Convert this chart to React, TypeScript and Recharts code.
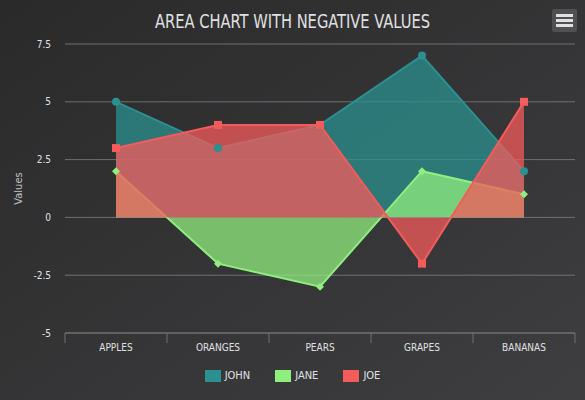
import { Area, AreaChart, CartesianGrid, XAxis, YAxis } from "recharts"

const categories = ["Apples", "Oranges", "Pears", "Grapes", "Bananas"]
const john = [5, 3, 4, 7, 2]
const jane = [2, -2, -3, 2, 1]
const joe = [3, 4, 4, -2, 5]
const yTicks = [-5, -2.5, 0, 2.5, 5, 7.5]

const JOHN = "#2b908f"
const JANE = "#90ee7e"
const JOE = "#f45b5b"
const TEXT = "#E0E0E3"
const GRID = "#707073"
const FONT = "'DejaVu Sans Condensed', 'DejaVu Sans', sans-serif"

const data = categories.map((name, i) => ({
  name,
  John: john[i],
  Jane: jane[i],
  Joe: joe[i],
}))

const series = [
  { key: "John", color: JOHN },
  { key: "Jane", color: JANE },
  { key: "Joe", color: JOE },
]

const HALF_BAND = 51

function XTick(props: any) {
  const { x, y, payload, index } = props
  return (
    <g>
      <line x1={x - HALF_BAND} x2={x - HALF_BAND} y1={y} y2={y + 10} stroke={GRID} />
      {index === categories.length - 1 && (
        <line x1={x + HALF_BAND} x2={x + HALF_BAND} y1={y} y2={y + 10} stroke={GRID} />
      )}
      <text
        x={x}
        y={y + 18}
        textAnchor="middle"
        fill={TEXT}
        fontSize={10}
        fontFamily={FONT}
        style={{ textTransform: "uppercase" }}
      >
        {payload.value}
      </text>
    </g>
  )
}

const circleDot = (p: any) => (
  <circle key={`c${p.index}`} cx={p.cx} cy={p.cy} r={4} fill={JOHN} />
)
const diamondDot = (p: any) => (
  <polygon
    key={`d${p.index}`}
    points={`${p.cx},${p.cy - 4} ${p.cx + 4},${p.cy} ${p.cx},${p.cy + 4} ${p.cx - 4},${p.cy}`}
    fill={JANE}
  />
)
const squareDot = (p: any) => (
  <rect key={`s${p.index}`} x={p.cx - 4} y={p.cy - 4} width={8} height={8} fill={JOE} />
)

export default function App() {
  return (
    <div
      style={{
        position: "absolute",
        left: 0,
        top: 0,
        width: 585,
        height: 400,
        background: "linear-gradient(to bottom right, #2a2a2b, #3e3e40)",
        fontFamily: FONT,
      }}
    >
      <svg width={585} height={400} style={{ position: "absolute", left: 0, top: 0 }}>
        <text
          x={292.5}
          y={28}
          textAnchor="middle"
          fill={TEXT}
          fontSize={20}
          fontFamily={FONT}
          textLength={275}
          lengthAdjust="spacingAndGlyphs"
        >
          AREA CHART WITH NEGATIVE VALUES
        </text>
        <rect x={552} y={9} width={25} height={23} rx={2} fill="#505053" />
        <rect x={556} y={14} width={17} height={3} fill={TEXT} />
        <rect x={556} y={19} width={17} height={3} fill={TEXT} />
        <rect x={556} y={24} width={17} height={3} fill={TEXT} />
        <text
          x={22}
          y={188.5}
          textAnchor="middle"
          fill={TEXT}
          fontSize={11}
          fontFamily={FONT}
          opacity={0.8}
          transform="rotate(-90 22 188.5)"
        >
          Values
        </text>
      </svg>
      <div style={{ position: "absolute", left: 0, top: 0 }}>
        <AreaChart
          width={585}
          height={400}
          data={data}
          margin={{ top: 44, right: 10, bottom: 37, left: 0 }}
        >
          <CartesianGrid vertical={false} stroke={GRID} />
          <XAxis
            dataKey="name"
            height={30}
            padding={{ left: HALF_BAND, right: HALF_BAND }}
            axisLine={{ stroke: GRID }}
            tickLine={false}
            tickSize={0}
            tickMargin={0}
            interval={0}
            tick={<XTick />}
          />
          <YAxis
            width={65}
            domain={[-5, 7.5]}
            ticks={yTicks}
            axisLine={false}
            tickLine={false}
            tickSize={6}
            tickMargin={8}
            tick={{ fill: TEXT, fontSize: 10, fontFamily: FONT }}
          />
          <Area
            type="linear"
            dataKey="John"
            stroke={JOHN}
            strokeWidth={2}
            fill={JOHN}
            fillOpacity={0.75}
            dot={circleDot}
            activeDot={false}
            isAnimationActive={false}
          />
          <Area
            type="linear"
            dataKey="Jane"
            stroke={JANE}
            strokeWidth={2}
            fill={JANE}
            fillOpacity={0.75}
            dot={diamondDot}
            activeDot={false}
            isAnimationActive={false}
          />
          <Area
            type="linear"
            dataKey="Joe"
            stroke={JOE}
            strokeWidth={2}
            fill={JOE}
            fillOpacity={0.75}
            dot={squareDot}
            activeDot={false}
            isAnimationActive={false}
          />
        </AreaChart>
      </div>
      <div
        style={{
          position: "absolute",
          left: 0,
          top: 369,
          width: 585,
          display: "flex",
          justifyContent: "center",
          gap: 25,
          color: TEXT,
          fontSize: 11,
          lineHeight: "14px",
        }}
      >
        {series.map((s) => (
          <div key={s.key} style={{ display: "flex", alignItems: "center", gap: 4 }}>
            <span style={{ width: 16, height: 12, background: s.color, display: "inline-block" }} />
            <span style={{ textTransform: "uppercase" }}>{s.key}</span>
          </div>
        ))}
      </div>
    </div>
  )
}
